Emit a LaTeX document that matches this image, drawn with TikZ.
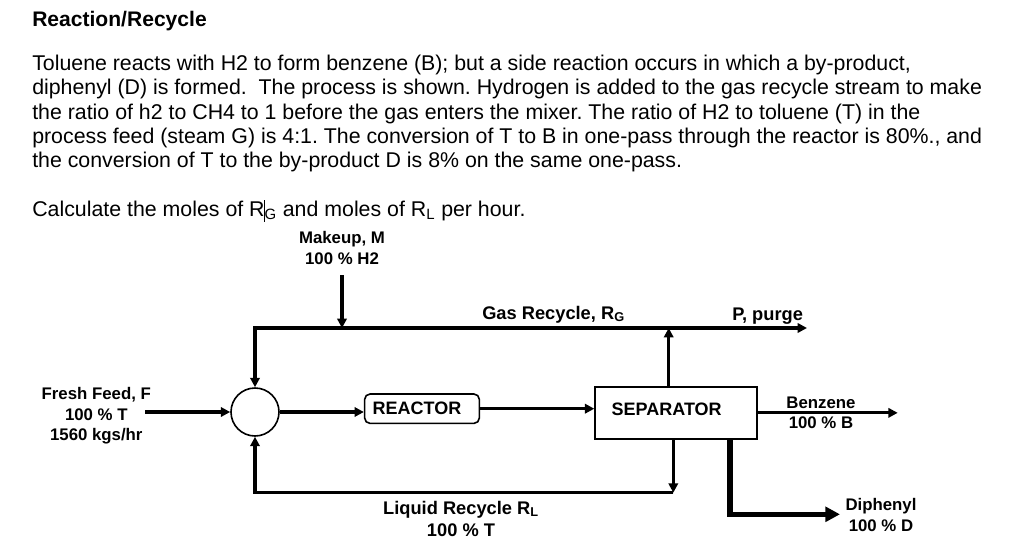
\documentclass[tikz,border=0pt]{standalone}
\usepackage{fontspec}
\setmainfont{Liberation Sans}
\usetikzlibrary{arrows.meta}
\frenchspacing
\begin{document}
\begin{tikzpicture}[x=0.75pt,y=-0.75pt,
  txt/.style={inner sep=0pt,anchor=base west,font=\fontsize{16pt}{18.3pt}\selectfont},
  ttl/.style={inner sep=0pt,anchor=base west,font=\fontsize{15.8pt}{18pt}\selectfont\bfseries},
  lbl/.style={inner sep=0pt,align=center,font=\fontsize{12.6pt}{15.4pt}\selectfont\bfseries},
  lblb/.style={inner sep=0pt,align=center,font=\fontsize{13.7pt}{16.5pt}\selectfont\bfseries},
  unit/.style={draw,align=left,font=\fontsize{13.5pt}{16pt}\selectfont\bfseries},
  flow/.style={line width=2.4pt,-{Triangle[length=7pt,width=7pt]}},
  flowboth/.style={line width=2.4pt,{Triangle[length=7pt,width=7pt]}-{Triangle[length=7pt,width=7pt]}},
  thickflow/.style={line width=4.2pt,-{Triangle[length=11pt,width=11pt]}}
]
\fill[white] (0,0) rectangle (1024,560);
\useasboundingbox (0,0) rectangle (1024,560);

% problem text
\node[ttl] (title) at (32,26.7) {Reaction/Recycle};
\node[txt] (l1) at (32,70) {Toluene reacts with H2 to form benzene (B); but a side reaction occurs in which a by-product,};
\node[txt] (l2) at (32,94.3) {diphenyl (D) is formed.\ \ The process is shown. Hydrogen is added to the gas recycle stream to make};
\node[txt] (l3) at (32,119) {the ratio of h2 to CH4 to 1 before the gas enters the mixer. The ratio of H2 to toluene (T) in the};
\node[txt] (l4) at (32,143.3) {process feed (steam G) is 4:1. The conversion of T to B in one-pass through the reactor is 80\%., and};
\node[txt] (l5) at (32,167.7) {the conversion of T to the by-product D is 8\% on the same one-pass.};
\node[txt] (l6) at (32,216) {Calculate the moles of R\makebox[0pt]{\rule[-0.28em]{0.5pt}{1.05em}}\textsubscript{G} and moles of R\textsubscript{L} per hour.};

% units
\node[circle,draw,line width=1.2pt,minimum size=36pt,inner sep=0pt] (mix) at (255,412) {};
\node[unit,line width=1.2pt,rounded corners=4pt,minimum width=86pt,minimum height=22pt,inner xsep=6pt,inner ysep=2pt,text width=74pt] (reac) at (422,408.7) {REACTOR};
\node[unit,line width=1.5pt,minimum width=121.5pt,minimum height=39.2pt,inner xsep=12.3pt,inner ysep=2pt,text width=96.9pt,text height=9.7pt,text depth=6pt] (sep) at (676.3,412.85) {SEPARATOR};

% labels
\node[lbl] (mk) at (342,248.2) {Makeup, M\\100 \% H2};
\node[lbl] (ff) at (96.3,416) {Fresh Feed, F\\100 \% T\\1560 kgs/hr};
\node[lbl] (bzl) at (821,412.7) {Benzene\\100 \% B};
\node[lbl] (dpl) at (881,515) {Diphenyl\\100 \% D};
\node[lblb,anchor=base west] (gr) at (482,319) {Gas Recycle, R\textsubscript{G}};
\node[lblb,anchor=base west] (pp) at (732,320) {P, purge};
\node[lblb] (lrl) at (461,518.5) {Liquid Recycle R\textsubscript{L}\\100 \% T};

% connector points
\coordinate (gl) at (255,328);
\coordinate (pg) at (807,328);
\coordinate (mkt) at (342,275);
\coordinate (fin) at (145,412);
\coordinate (bzo) at (897.7,412.85);
\coordinate (ll) at (255,492.7);
\coordinate (lr0) at (673.3,492.7);
\coordinate (sup) at (668.7,328);
\coordinate (dpc) at (730,514.3);
\coordinate (dpo) at (840,514.3);

% streams
\draw[flowboth] (mix.north) -- (gl) -- (pg);
\draw[flow] (mkt) -- (mkt |- gl);
\draw[flow] (fin) -- (mix.west);
\draw[flow] (mix.east) -- (mix.east -| reac.west);
\draw[flow] (reac.east) -- (reac.east -| sep.west);
\draw[flow] (sup |- sep.north) -- (sup);
\draw[flow] (sep.east) -- (bzo);
\draw[flow] (lr0 |- sep.south) -- (lr0);
\draw[flow] (lr0) -- (ll) -- (mix.south);
\draw[thickflow] (dpc |- sep.south) -- (dpc) -- (dpo);
\end{tikzpicture}
\end{document}
